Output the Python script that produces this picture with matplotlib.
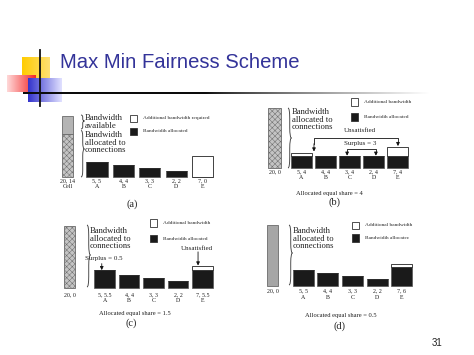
import numpy as np
import matplotlib.pyplot as plt
from matplotlib.path import Path
from matplotlib.patches import PathPatch, Rectangle

# -------------------------------------------------------------------------
# DATA
# -------------------------------------------------------------------------
conns = ["A", "B", "C", "D", "E"]
demand = [5, 4, 3, 2, 7]
cell_capacity = 20

# bandwidth allocated to each connection at each step
alloc_a = [5, 4, 3, 2, 0]
alloc_b = [4, 4, 4, 4, 4]
alloc_c = [5.5, 4, 3, 2, 5.5]
alloc_d = [5, 4, 3, 2, 6]

# cell: second label value, part allocated to connections
cell_labels = [14, 0, 0, 0]
cell_used = [14, 20, 20, 20]

panel_names = ["(a)", "(b)", "(c)", "(d)"]
share_texts = [None, "Allocated equal share = 4",
               "Allocated equal share = 1.5", "Allocated equal share = 0.5"]
legend_top = ["Additional bandwidth required", "Additional bandwidth",
              "Additional bandwidth", "Additional bandwidth"]
legend_bot = ["Bandwidth allocated", "Bandwidth allocated",
              "Bandwidth allocated", "Bandwidth allocatec"]

W, H = 474, 355
SERIF = "Liberation Serif"
INK = "#1a1a1a"

fig = plt.figure(figsize=(W / 100, H / 100), dpi=100)

# page axes in pixel coordinates (title, decoration, legends)
page = fig.add_axes([0, 0, 1, 1])
page.set_xlim(0, W)
page.set_ylim(H, 0)
page.axis("off")


def grad(ax, extent, c0, c1, n=64, z=1, t=None):
    if t is None:
        t = np.linspace(0, 1, n)
    c0, c1 = np.array(c0), np.array(c1)
    img = c0[None, :] * (1 - t[:, None]) + c1[None, :] * t[:, None]
    ax.imshow(img[None, :, :], extent=extent, aspect="auto", zorder=z,
              interpolation="bilinear")


# -------------------------------------------------------------------------
# TITLE DECORATION
# -------------------------------------------------------------------------
grad(page, [22, 50, 84, 57], (1.0, 0.80, 0.0), (1.0, 0.88, 0.45), z=1)
grad(page, [7, 36, 92, 75], (1.0, 0.85, 0.85), (0.95, 0.15, 0.15), z=2)
grad(page, [28, 62, 102, 78], (0.2, 0.2, 0.8), (0.88, 0.88, 1.0), z=3)
page.plot([40, 40], [50, 106], color="#111111", lw=1.3, zorder=5)
s = np.linspace(0, 1, 256)
fade = np.clip((s - 0.45) / 0.55, 0, 1) ** 0.8
grad(page, [23, 430, 94, 92], (0.05, 0.05, 0.05), (1.0, 1.0, 1.0), z=4, t=fade)
page.text(60, 62, "Max Min Fairness Scheme", fontsize=14.6, color="#333399",
          family="Liberation Sans", va="center", ha="left")
page.text(437, 343, "31", fontsize=7, color="#222222", family="Liberation Sans",
          ha="center", va="center")


def brace(ax, x, y0, y1, w, ytip):
    xm = x + w / 2
    r = min(abs(ytip - y0), abs(y1 - ytip)) * 0.35
    verts = [(x, y0), (xm, y0), (xm, y0 + r),
             (xm, ytip - r), (xm, ytip), (x + w, ytip),
             (xm, ytip), (xm, ytip + r),
             (xm, y1 - r), (xm, y1), (x, y1)]
    codes = [Path.MOVETO, Path.CURVE3, Path.CURVE3,
             Path.LINETO, Path.CURVE3, Path.CURVE3,
             Path.CURVE3, Path.CURVE3,
             Path.LINETO, Path.CURVE3, Path.CURVE3]
    ax.add_patch(PathPatch(Path(verts, codes), fill=False, lw=0.6, ec="#333333"))


def legend(ax, x, y_top, y_bot, top_text, bot_text):
    ax.add_patch(Rectangle((x, y_top - 3.7), 7, 7.4, fc="white", ec="#333333", lw=0.6))
    ax.add_patch(Rectangle((x, y_bot - 3.7), 7, 7.4, fc=INK, ec="#333333", lw=0.6))
    ax.text(x + 13, y_top, top_text, fontsize=3.9, family=SERIF, va="center", color="#222")
    ax.text(x + 13, y_bot, bot_text, fontsize=3.9, family=SERIF, va="center", color="#222")


# -------------------------------------------------------------------------
# PANELS  (layout: A-centre px, bar pitch px, baseline px, px per unit)
# -------------------------------------------------------------------------
layout = [
    dict(x0=97, xu=26.4, base=177, yu=3.05, cx=-1.12, cw=0.42, bw=0.80, lab=(4.0, 9.5)),
    dict(x0=301.5, xu=24.0, base=168, yu=3.0, cx=-1.125, cw=0.54, bw=0.87, lab=(4.0, 9.5)),
    dict(x0=104.7, xu=24.5, base=287.5, yu=3.1, cx=-1.43, cw=0.45, bw=0.84, lab=(7.0, 12.5)),
    dict(x0=303.3, xu=24.6, base=285.5, yu=3.05, cx=-1.25, cw=0.47, bw=0.85, lab=(5.5, 12.0)),
]
allocs = [alloc_a, alloc_b, alloc_c, alloc_d]
plt.rcParams["hatch.linewidth"] = 0.35
plt.rcParams["hatch.color"] = "#6e6e6e"
LFS = 4.3

axes = []
for i, (L, alloc) in enumerate(zip(layout, allocs)):
    ax = fig.add_axes([0, 0, 1, 1])
    ax.set_xlim(-L["x0"] / L["xu"], (W - L["x0"]) / L["xu"])
    ax.set_ylim((L["base"] - H) / L["yu"], L["base"] / L["yu"])
    ax.axis("off")
    ax.patch.set_alpha(0)
    axes.append(ax)

    x = np.arange(len(conns))
    alloc = np.array(alloc, dtype=float)
    dem = np.array(demand, dtype=float)
    extra = np.clip(dem - alloc, 0, None)

    # connections
    ax.bar(x, alloc, width=L["bw"], color=INK, edgecolor="#555555", lw=0.5)
    ax.bar(x, extra, bottom=alloc, width=L["bw"], color="white",
           edgecolor="#222222", lw=0.6)

    # cell bar
    if i == 3:
        ax.bar(L["cx"], cell_used[i], width=L["cw"], color="#a6a6a6",
               edgecolor="#6a6a6a", lw=0.6)
    else:
        ax.bar(L["cx"], cell_used[i], width=L["cw"], color="#c4c4c4",
               edgecolor="#6a6a6a", lw=0.6, hatch="xxxxxx")
        if cell_capacity > cell_used[i]:
            ax.bar(L["cx"], cell_capacity - cell_used[i], bottom=cell_used[i],
                   width=L["cw"], color="#b4b4b4", edgecolor="#6a6a6a", lw=0.6)

    # labels under bars
    d1 = -L["lab"][0] / L["yu"]
    d2 = -L["lab"][1] / L["yu"]
    for xi, c, dv, av in zip(x, conns, dem, alloc):
        ax.text(xi, d1, f"{dv:g}, {av:g}", fontsize=LFS, family=SERIF,
                ha="center", va="center", color="#222")
        ax.text(xi, d2, c, fontsize=LFS, family=SERIF, ha="center",
                va="center", color="#222")
    ax.text(L["cx"], d1, f"{cell_capacity}, {cell_labels[i]}", fontsize=LFS,
            family=SERIF, ha="center", va="center", color="#222")
    if i == 0:
        ax.text(L["cx"], d2, "Cell", fontsize=LFS, family=SERIF, ha="center",
                va="center", color="#222")

# -------------------------------------------------------------------------
# BRACES, LEGENDS, CAPTIONS (pixel positions on the page)
# -------------------------------------------------------------------------
btxt = "Bandwidth\nallocated to\nconnections"
bkw = dict(fontsize=6.2, family=SERIF, va="top", ha="left", linespacing=0.95, color="#222")

brace(page, 81, 115, 129, 3.5, 121)
brace(page, 81, 130.5, 177, 3.5, 149)
page.text(85, 114.5, "Bandwidth\navailable", **bkw)
page.text(85, 131, btxt, **bkw)

brace(page, 288, 108, 168, 3.5, 138)
page.text(292, 108, btxt, **bkw)

brace(page, 87, 225, 287, 3.5, 255)
page.text(90, 227, btxt, **bkw)

brace(page, 289, 225, 285, 3.5, 253)
page.text(293, 227, btxt, **bkw)

legend(page, 130, 118.5, 131.5, legend_top[0], legend_bot[0])
legend(page, 351.5, 102, 117, legend_top[1], legend_bot[1])
legend(page, 150, 223, 238.5, legend_top[2], legend_bot[2])
legend(page, 352, 225.5, 238, legend_top[3], legend_bot[3])

cap = [(132.5, 204), (335, 202), (131, 323), (340, 326.5)]
share_pos = [None, (329, 193), (135, 313), (340.5, 315.7)]
for i in range(4):
    page.text(*cap[i], panel_names[i], fontsize=7.5, family=SERIF, ha="center",
              va="center", color="#222")
    if share_texts[i]:
        page.text(*share_pos[i], share_texts[i], fontsize=4.7, family=SERIF,
                  ha="center", va="center", color="#222")

# -------------------------------------------------------------------------
# ARROWS (in panel data units)
# -------------------------------------------------------------------------
akw = dict(arrowstyle="-|>", lw=0.6, color="#111", mutation_scale=5,
           shrinkA=0, shrinkB=0)
lkw = dict(color="#111", lw=0.6)

ax = axes[1]
ax.plot([0.52, 0.52, 4.02, 4.02], [8.0, 10.0, 10.0, 8.5], **lkw)
ax.annotate("", xy=(0.52, 5.5), xytext=(0.52, 8.1), arrowprops=akw)
ax.annotate("", xy=(4.02, 7.3), xytext=(4.02, 8.6), arrowprops=akw)
ax.text(2.45, 12.4, "Unsatisfied", fontsize=5, family=SERIF, ha="center",
        va="center", color="#222")
ax.plot([1.9, 1.9, 3.1, 3.1], [5.0, 6.3, 6.3, 5.0], **lkw)
ax.annotate("", xy=(1.9, 4.1), xytext=(1.9, 5.1), arrowprops=akw)
ax.annotate("", xy=(3.1, 4.1), xytext=(3.1, 5.1), arrowprops=akw)
ax.text(2.45, 8.0, "Surplus = 3", fontsize=5, family=SERIF, ha="center",
        va="center", color="#222")

ax = axes[2]
ax.annotate("", xy=(-0.12, 5.6), xytext=(-0.12, 7.7), arrowprops=akw)
ax.text(-0.05, 9.4, "Surplus = 0.5", fontsize=5, family=SERIF, ha="center",
        va="center", color="#222")
ax.annotate("", xy=(3.81, 7.1), xytext=(3.81, 11.5), arrowprops=akw)
ax.text(3.77, 12.5, "Unsatisfied", fontsize=5, family=SERIF, ha="center",
        va="center", color="#222")

fig.savefig("out.png", dpi=100)
